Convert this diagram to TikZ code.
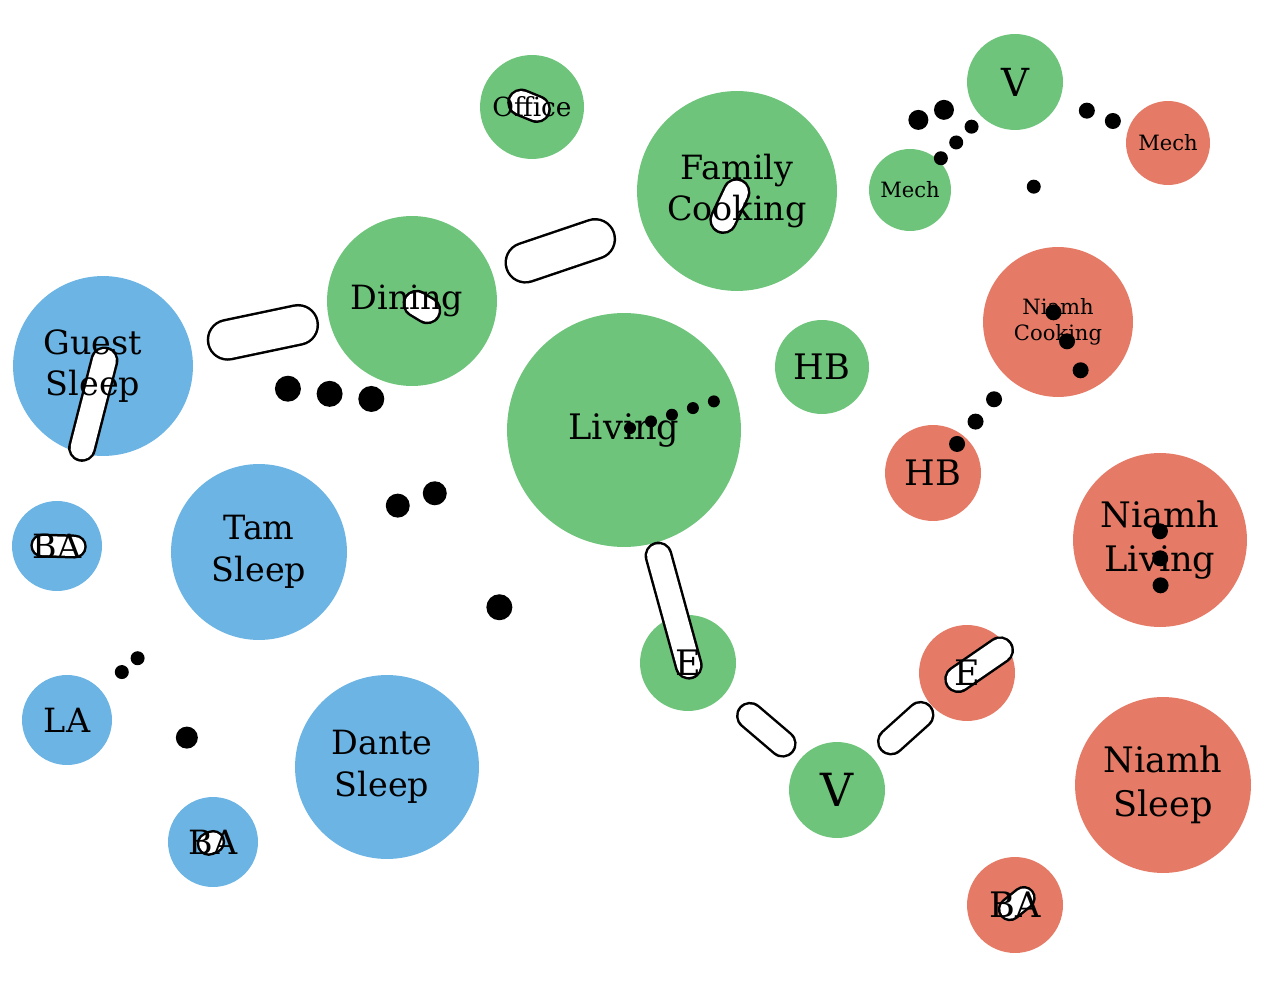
\documentclass[tikz,border=0pt]{standalone}
\usepackage{fontspec}
\setmainfont{DejaVu Serif}
\begin{document}
\definecolor{gr}{HTML}{6DC47A}
\definecolor{bl}{HTML}{6CB4E4}
\definecolor{rd}{HTML}{E57B66}
\begin{tikzpicture}[x=0.02cm,y=-0.02cm,
 room/.style={circle,inner sep=0pt,minimum size=#1*0.04cm,draw=none},
 g/.style={room=#1,fill=gr}, b/.style={room=#1,fill=bl}, r/.style={room=#1,fill=rd},
 lbl/.style={align=center,font=\fontsize{#1}{\the\dimexpr #1pt*5/4\relax}\selectfont,inner sep=0pt},
 cap/.style={line cap=round,line width=#1*0.02cm,draw=black,
   postaction={draw=white,line width=(#1-5)*0.02cm,line cap=round}},
 dots/.style n args={2}{line cap=round,line width=#1*0.02cm,dash pattern=on 0pt off #2*0.02cm}]
\useasboundingbox (0,0) rectangle (1280,989);
% circles
\node[g=52] (office) at (532,107) {};
\node[g=100] (family) at (737,191) {};
\node[g=85] (dining) at (412,301) {};
\node[g=117] (living) at (624,430) {};
\node[g=47] (hbg) at (822,367) {};
\node[g=48] (vtop) at (1015,82) {};
\node[g=41] (mechg) at (910,190) {};
\node[r=42] (mechr) at (1168,143) {};
\node[r=75] (ncook) at (1058,322) {};
\node[r=48] (hbr) at (933,473) {};
\node[r=87] (nliv) at (1160,540) {};
\node[r=88] (nsleep) at (1163,785) {};
\node[r=48] (bar) at (1015,905) {};
\node[r=48] (er) at (967,673) {};
\node[g=48] (vbot) at (837,790) {};
\node[g=48] (eg) at (688,663) {};
\node[b=90] (guest) at (103,366) {};
\node[b=45] (ba1) at (57,546) {};
\node[b=88] (tam) at (259,552) {};
\node[b=45] (la) at (67,720) {};
\node[b=92] (dante) at (387,767) {};
\node[b=45] (ba2) at (213,842) {};
% capsules
\draw[cap=28,shorten <=64*0.02cm,shorten >=116*0.02cm] (office) -- (family);
\draw[cap=42,shorten <=108*0.02cm,shorten >=123*0.02cm] (dining) -- (family);
\draw[cap=42,shorten <=109*0.02cm,shorten >=103*0.02cm] (guest) -- (dining);
\draw[cap=28,shorten <=80*0.02cm,shorten >=113*0.02cm] (dining) -- (living);
\draw[cap=28,shorten <=99*0.02cm,shorten >=115*0.02cm] (family) -- (living);
\draw[cap=28,shorten <=96*0.02cm,shorten >=56*0.02cm] (guest) -- (ba1);
\draw[cap=24,shorten <=60*0.02cm,shorten >=96*0.02cm] (ba1) -- (tam);
\draw[cap=28,shorten <=127*0.02cm,shorten >=63*0.02cm] (living) -- (eg);
\draw[cap=28,shorten <=76*0.02cm,shorten >=66*0.02cm] (eg) -- (vbot);
\draw[cap=28,shorten <=64*0.02cm,shorten >=54*0.02cm] (vbot) -- (er);
\draw[cap=28,shorten <=59*0.02cm,shorten >=107*0.02cm] (er) -- (nliv);
\draw[cap=24,shorten <=55*0.02cm,shorten >=91*0.02cm] (bar) -- (nsleep);
\draw[cap=24,shorten <=50*0.02cm,shorten >=97*0.02cm] (ba2) -- (dante);
% dotted
\draw[dots={26}{42},shorten <=96*0.02cm,shorten >=135*0.02cm] (guest) -- (living);
\draw[dots={24}{39},shorten <=97*0.02cm,shorten >=130*0.02cm] (tam) -- (living);
\draw[dots={26}{47},shorten <=103*0.02cm,shorten >=120*0.02cm] (dante) -- (living);
\draw[dots={22}{37},shorten <=110*0.02cm,shorten >=64*0.02cm] (dante) -- (la);
\draw[dots={14}{21},shorten <=94*0.02cm,shorten >=55*0.02cm] (tam) -- (la);
\draw[dots={12}{22},shorten <=111*0.02cm,shorten >=53*0.02cm] (living) -- (hbg);
\draw[dots={20}{27.5},shorten <=122*0.02cm,shorten >=67*0.02cm] (family) -- (vtop);
\draw[dots={14}{22},shorten <=58*0.02cm,shorten >=49*0.02cm] (vtop) -- (mechg);
\draw[dots={16}{28},shorten <=57*0.02cm,shorten >=51*0.02cm] (vtop) -- (mechr);
\draw[dots={14}{26},shorten <=58*0.02cm,shorten >=81*0.02cm] (vtop) -- (ncook);
\draw[dots={16}{29},shorten <=83*0.02cm,shorten >=55*0.02cm] (ncook) -- (hbr);
\draw[dots={16}{32},shorten <=86*0.02cm,shorten >=91*0.02cm] (ncook) -- (nliv);
\draw[dots={16}{27},shorten <=96*0.02cm,shorten >=95*0.02cm] (nliv) -- (nsleep);
% labels
\node[lbl=15] (t1) at (office) {Office};
\node[lbl=19] (t2) at (family) {Family\\Cooking};
\node[lbl=19] (t3) at ([xshift=-5*0.02cm]dining) {Dining};
\node[lbl=20] (t4) at (living) {Living};
\node[lbl=20] (t5) at (hbg) {HB};
\node[lbl=22] (t6) at (vtop) {V};
\node[lbl=12] (t7) at (mechg) {Mech};
\node[lbl=12] (t8) at (mechr) {Mech};
\node[lbl=12] (t9) at (ncook) {Niamh\\Cooking};
\node[lbl=20] (t10) at (hbr) {HB};
\node[lbl=20] (t11) at (nliv) {Niamh\\Living};
\node[lbl=20] (t12) at (nsleep) {Niamh\\Sleep};
\node[lbl=20] (t13) at (bar) {BA};
\node[lbl=20] (t14) at (er) {E};
\node[lbl=26] (t15) at (vbot) {V};
\node[lbl=20] (t16) at (eg) {E};
\node[lbl=19] (t17) at ([xshift=-10*0.02cm]guest) {Guest\\Sleep};
\node[lbl=19] (t18) at (ba1) {BA};
\node[lbl=19] (t19) at (tam) {Tam\\Sleep};
\node[lbl=19] (t20) at (la) {LA};
\node[lbl=19] (t21) at ([xshift=-5*0.02cm]dante) {Dante\\Sleep};
\node[lbl=19] (t22) at (ba2) {BA};
\end{tikzpicture}
\end{document}
